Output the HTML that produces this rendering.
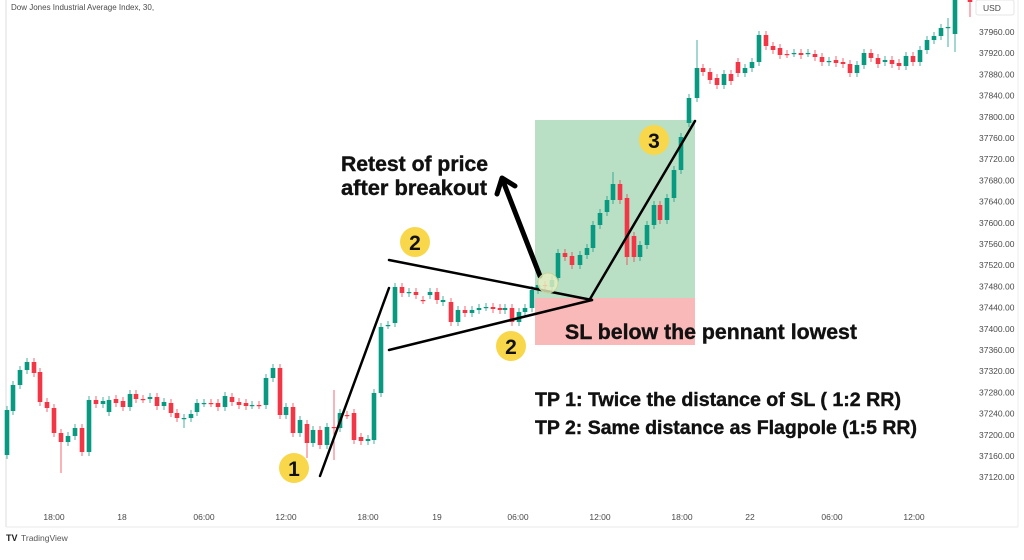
<!DOCTYPE html>
<html><head><meta charset="utf-8"><style>
html,body{margin:0;padding:0;background:#fff;}
svg{display:block;}
.ax{font-family:"Liberation Sans",sans-serif;font-size:8.5px;fill:#4a4a4a;}
.ann{font-family:"Liberation Sans",sans-serif;font-weight:bold;fill:#111;}
</style></head><body>
<svg id="s" width="1024" height="560" viewBox="0 0 1024 560" xmlns="http://www.w3.org/2000/svg">
<rect width="1024" height="560" fill="#fff"/>
<line x1="6" y1="0" x2="6" y2="527" stroke="#e8e8e8" stroke-width="1.5"/>
<line x1="6" y1="527" x2="1018" y2="527" stroke="#e8e8e8" stroke-width="1"/>
<line x1="1018" y1="0" x2="1018" y2="527" stroke="#eeeeee" stroke-width="1"/>
<text x="11" y="10" class="ax" style="font-size:8px">Dow Jones Industrial Average Index, 30,</text>
<rect x="976" y="0" width="38" height="15" rx="2" fill="#fff" stroke="#e4e4e4"/>
<text x="983" y="11" class="ax">USD</text>
<rect x="535" y="120" width="160" height="178" fill="#b9e0c5"/>
<rect x="535" y="298" width="160" height="47" fill="#f9b9b9"/>
<g id="c"></g>
<g id="yl"></g>
<g class="ax">
<text x="54" y="520" text-anchor="middle">18:00</text>
<text x="122" y="520" text-anchor="middle">18</text>
<text x="204" y="520" text-anchor="middle">06:00</text>
<text x="286" y="520" text-anchor="middle">12:00</text>
<text x="368" y="520" text-anchor="middle">18:00</text>
<text x="437" y="520" text-anchor="middle">19</text>
<text x="518" y="520" text-anchor="middle">06:00</text>
<text x="600" y="520" text-anchor="middle">12:00</text>
<text x="682" y="520" text-anchor="middle">18:00</text>
<text x="750" y="520" text-anchor="middle">22</text>
<text x="832" y="520" text-anchor="middle">06:00</text>
<text x="914" y="520" text-anchor="middle">12:00</text>
</g>
<text x="6" y="541" font-family="Liberation Sans,sans-serif" font-size="9" font-weight="bold" fill="#222">TV</text>
<text x="21" y="541" font-family="Liberation Sans,sans-serif" font-size="8.5" fill="#555">TradingView</text>
<g stroke="#000" stroke-width="2.5" fill="none" stroke-linecap="round">
<line x1="320" y1="476" x2="389" y2="288"/>
<line x1="389" y1="260" x2="592" y2="300"/>
<line x1="389" y1="350" x2="592" y2="300"/>
<line x1="590" y1="299" x2="695" y2="121"/>
</g>
<g stroke="#000" stroke-width="5" fill="none" stroke-linecap="round" stroke-linejoin="round">
<line x1="540" y1="276" x2="503" y2="181"/>
<polyline points="497,194 502,178 515,186"/>
</g>
<circle cx="548" cy="283" r="10" fill="#e7efc2" fill-opacity="0.8" stroke="#c6d59a" stroke-width="1"/>
<g fill="#f8d74a">
<circle cx="294" cy="468" r="15"/><circle cx="415" cy="242" r="15"/>
<circle cx="511" cy="346" r="15"/><circle cx="654" cy="140" r="15"/>
</g>
<g class="ann" font-size="21" text-anchor="middle">
<text x="294" y="476">1</text><text x="415" y="250">2</text>
<text x="511" y="354">2</text><text x="654" y="148">3</text>
</g>
<g class="ann" stroke="#111" stroke-width="0.4">
<text x="341" y="171" font-size="21" textLength="147" lengthAdjust="spacingAndGlyphs">Retest of price</text>
<text x="341" y="195" font-size="21" textLength="146" lengthAdjust="spacingAndGlyphs">after breakout</text>
<text x="565" y="339" font-size="21.5" textLength="292" lengthAdjust="spacingAndGlyphs">SL below the pennant lowest</text>
<text x="535" y="406" font-size="19" textLength="366" lengthAdjust="spacingAndGlyphs">TP 1: Twice the distance of SL ( 1:2 RR)</text>
<text x="535" y="434" font-size="19" textLength="382" lengthAdjust="spacingAndGlyphs">TP 2: Same distance as Flagpole (1:5 RR)</text>
</g>
</svg>
<script>
var d=[[7,455,410],[13,411,385],[20,385,370],[27,370,362],[34,362,373],[40,372,402],[47,402,408],[54,408,433],[61,433,442],[68,442,436],[75,436,428],[82,428,452],[89,452,400],[96,400,404],[103,404,401],[109,412,400],[116,399,403],[123,401,407],[130,407,394],[136,394,399],[143,399,399],[150,399,397],[157,397,406],[164,406,402],[171,403,413],[177,413,418],[184,418,418],[191,418,414],[197,412,403],[204,403,403],[211,403,403],[218,403,407],[225,407,396],[232,397,402],[239,402,405],[246,403,406],[252,405,405],[259,405,405],[266,405,378],[273,378,368],[280,368,415],[286,415,407],[293,407,433],[300,433,420],[307,424,443],[313,443,430],[320,430,445],[327,445,427],[334,427,428],[340,428,413],[347,415,415],[354,413,440],[361,437,441],[368,441,439],[374,440,393],[381,393,327],[388,325,325],[395,323,287],[402,287,293],[409,293,292],[416,292,295],[423,300,300],[430,295,292],[437,292,300],[443,302,300],[451,302,322],[458,322,310],[465,310,313],[472,313,310],[479,310,308],[486,307,307],[493,307,309],[500,308,310],[505,310,308],[512,308,322],[519,322,312],[525,312,308],[532,308,290],[538,290,285],[545,285,286],[552,287,280],[558,278,253],[565,253,257],[572,256,265],[580,265,255],[587,255,248],[593,248,225],[600,225,213],[607,212,200],[613,200,184],[620,184,200],[627,198,257],[634,236,257],[640,257,245],[647,245,225],[654,225,205],[660,205,220],[667,220,198],[674,198,170],[681,170,137],[689,123,98],[697,98,68],[703,68,72],[710,72,80],[717,78,85],[724,85,74],[731,74,81],[738,62,73],[745,73,68],[752,68,62],[759,62,35],[766,35,46],[773,46,50],[780,48,55],[787,54,54],[794,53,53],[801,53,55],[808,53,53],[815,54,57],[822,57,62],[829,62,61],[836,60,63],[843,62,64],[850,64,73],[857,73,65],[864,65,53],[871,53,58],[878,58,64],[885,62,60],[892,60,64],[899,63,66],[906,66,56],[913,56,62],[920,62,50],[927,50,40],[934,40,36],[941,36,28],[948,28,27],[955,34,0],[970,0,2]];
var ex={61:[0,473],334:[390,460],697:[40,0],948:[18,47],955:[0,52],970:[0,17],634:[0,262],627:[0,265],613:[172,0],184:[0,428],307:[0,458]};
var g=document.getElementById('c'),h='';
d.forEach(function(a){var x=a[0],o=a[1],c=a[2];var col=(c>o)?'#f23645':'#089981';if(c==o&&x%2)col='#f23645';
var t=Math.min(o,c),b=Math.max(o,c);var hi=t-4,lo=b+4;if(ex[x]){if(ex[x][0])hi=ex[x][0];if(ex[x][1])lo=ex[x][1];}
h+='<line x1="'+x+'" x2="'+x+'" y1="'+hi+'" y2="'+lo+'" stroke="'+col+'" stroke-width="1" opacity="0.75"/>';
h+='<rect x="'+(x-2.3)+'" y="'+t+'" width="4.6" height="'+Math.max(b-t,1.2)+'" fill="'+col+'"/>';});
g.innerHTML=h;
var y='',p=37960;for(var i=0;i<=21;i++){y+='<text x="979" y="'+(35+i*21.2).toFixed(1)+'" class="ax">'+(p-40*i)+'.00</text>';}
document.getElementById('yl').innerHTML=y;
</script>
</body></html>
